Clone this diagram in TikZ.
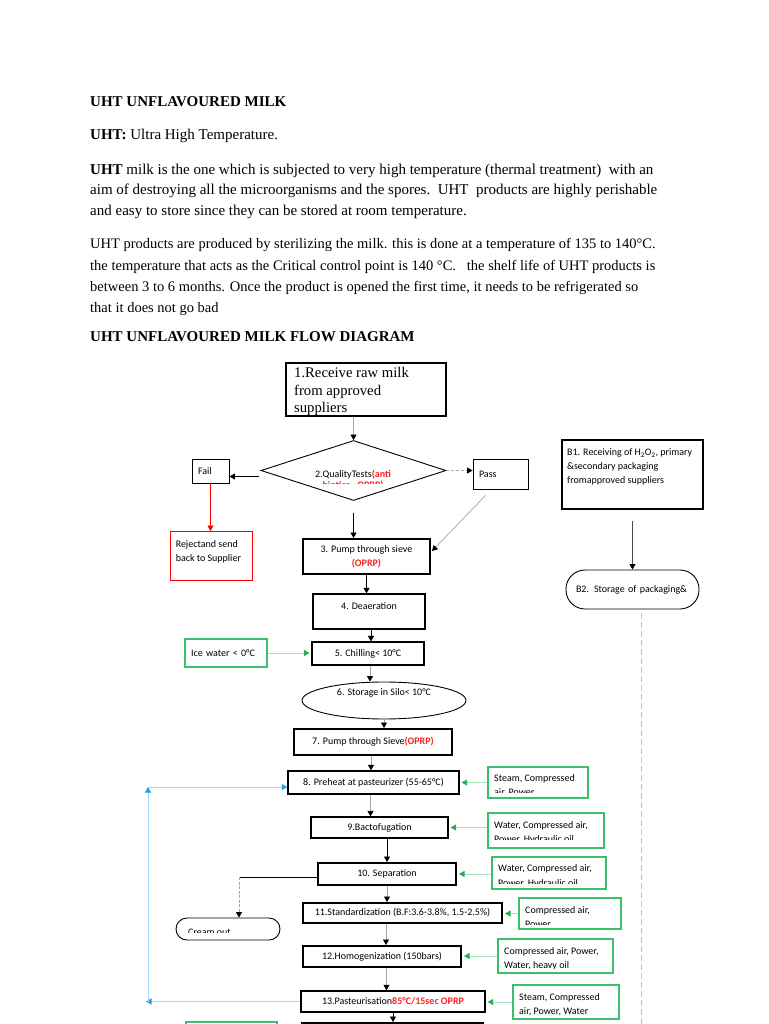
\documentclass[tikz,border=0pt]{standalone}
\usepackage{fontspec}
\setmainfont{Liberation Serif}
\newfontfamily\calib{Carlito}
\usetikzlibrary{arrows.meta,shapes.geometric,calc}
\definecolor{gbord}{HTML}{3CBF6B}
\definecolor{gline}{HTML}{A9E3BE}
\definecolor{gtip}{HTML}{1FB050}
\definecolor{bline}{HTML}{9ED8F5}
\definecolor{btip}{HTML}{1AA3E6}
\definecolor{oprp}{HTML}{FF1F1F}
\newcommand\bodyf{\fontsize{15}{20}\selectfont}
\newcommand\bodyg{\fontsize{14.5}{20}\selectfont}
\newcommand\dgf{\calib\fontsize{10}{14}\selectfont}
\newcommand\greenbx[9]{%
  \node[gbox, minimum width={#4-#2}, minimum height={#5-#3}] (#1) at ({(#2+#4)/2},{(#3+#5)/2}) {};
  \node[gtext] (#1a) at ({#2+6},#6) {#7};
  \begin{scope}
    \clip (#2,#3) rectangle (#4,#9);
    \node[gtext] (#1b) at ({#2+6},{#6+14.5}) {#8};
  \end{scope}}
\begin{document}
\begin{tikzpicture}[x=1pt,y=-1pt,
  bt/.style={anchor=base west, inner sep=0, font=\bodyf},
  bt2/.style={anchor=base west, inner sep=0, font=\bodyg},
  wh/.style 2 args={minimum width=#1pt, minimum height=#2pt},
  box/.style={draw, line width=1.1pt, inner sep=0, font=\dgf, align=center},
  tbox/.style={box, line width=2pt},
  gbox/.style={draw=gbord, line width=1.1pt, inner sep=0},
  gtext/.style={anchor=base west, inner sep=0, font=\dgf},
  arr/.style={draw=black!35, line width=0.7pt, -{Triangle[length=5.5pt,width=6pt,color=black]}},
  darr/.style={arr, dash pattern=on 3pt off 2pt},
  barr/.style={draw=black, line width=0.9pt, -{Triangle[length=5.5pt,width=6pt]}},
  rarr/.style={draw=red, line width=0.7pt, -{Triangle[length=5.5pt,width=6pt,color=red]}},
  garr/.style={draw=gline, line width=0.9pt, -{Triangle[length=5.5pt,width=6pt,color=gtip]}, shorten >=2pt},
  blarr/.style={draw=bline, line width=0.9pt, -{Triangle[length=5.5pt,width=6pt,color=btip]}}]
\clip (0,0) rectangle (768,1024);
\fill[white] (0,0) rectangle (768,1024);

% ---- text ----
\node[bt] (t1) at (90,107) {\textbf{UHT UNFLAVOURED MILK}};
\node[bt] (t2) at (90,139.5) {\textbf{UHT:} Ultra High Temperature.};
\node[bt] (p1a) at (90,174.5) {\textbf{UHT} milk is the one which is subjected to very high temperature (thermal treatment)\ \ with an};
\node[bt] (p1b) at (90,195) {aim of destroying all the microorganisms and the spores.\ \ UHT\ \ products are highly perishable};
\node[bt] (p1c) at (90,215.5) {and easy to store since they can be stored at room temperature.};
\node[bt2] (p2a) at (90,248) {UHT products are produced by sterilizing the milk. this is done at a temperature of 135 to 140°C.};
\node[bt2] (p2b) at (90,270) {the temperature that acts as the Critical control point is 140 °C.\ \ \ the shelf life of UHT products is};
\node[bt2] (p2c) at (90,291) {between 3 to 6 months. Once the product is opened the first time, it needs to be refrigerated so};
\node[bt2] (p2d) at (90,312) {that it does not go bad};
\node[bt] (t3) at (90,341.5) {\textbf{UHT UNFLAVOURED MILK FLOW DIAGRAM}};

% ---- main column ----
\node[box, wh={160}{53},
  label={[font={\fontsize{14.7}{17.5}\selectfont}, align=left, inner sep=0, anchor=north west, xshift=8.5pt, yshift=-5pt]north west:{1.Receive raw milk\\from approved\\suppliers}}] (b1) at (366,389.5) {};
\node[draw, diamond, line width=0.9pt, minimum width=185pt, minimum height=60pt, inner sep=0] (q) at (353.5,470.5) {};
\node[font=\dgf, anchor=base, inner sep=0] (qt1) at (353,477.5) {2.QualityTests{\color{oprp}\bfseries(anti}};
\begin{scope}
  \clip (262,478) rectangle (446,483);
  \node[font=\dgf, anchor=base, inner sep=0, text=oprp] (qt2) at (353,488) {\bfseries biotics - OPRP)};
\end{scope}
\node[box, wh={37}{24}, text width=25pt, align=left, line width=0.9pt] (fail) at (210.5,471) {Fail};
\node[box, wh={55}{30}, text width=43pt, align=left, line width=0.9pt] (pass) at (500.5,474) {Pass};
\node[box, draw=red, wh={82}{49}, line width=0.9pt,
  label={[font=\dgf, align=left, inner sep=0, anchor=north west, xshift=6pt, yshift=-9pt]north west:{Rejectand send\\back to Supplier}}] (rej) at (211,556) {};
\node[tbox, wh={127}{35}] (b3) at (366.5,556.5) {3. Pump through sieve\\{\color{oprp}\bfseries(OPRP)}};
\node[box, wh={112}{35}, line width=1.3pt, text height=7pt, text depth=11.4pt] (b4) at (369,611.5) {4. Deaeration};
\node[box, wh={112}{23}] (b5) at (368,653.5) {5. Chilling< 10°C};
\node[gbox, wh={82}{28}, font=\dgf, text width=70pt, align=left] (ice) at (226,653) {Ice water < 0°C};
\node[draw, ellipse, line width=0.9pt, wh={164}{37}, inner sep=0, font=\dgf, text height=7pt, text depth=17.4pt] (b6) at (384,700.5) {6. Storage in Silo< 10°C};
\node[tbox, wh={158}{26}] (b7) at (373,742) {7. Pump through Sieve{\color{oprp}\bfseries(OPRP)}};
\node[box, wh={171}{23}, line width=1.3pt] (b8) at (373.5,782.5) {8. Preheat at pasteurizer (55-65°C)};
\node[box, wh={137}{21}] (b9) at (379.5,827.5) {9.Bactofugation};
\node[tbox, wh={138}{22}] (b10) at (387,874) {10. Separation};
\node[draw, rounded corners=11pt, wh={104}{22}, line width=0.9pt, inner sep=0] (cream) at (228,929) {};
\begin{scope}
  \clip (177,919) rectangle (279,932);
  \node[gtext] (creamt) at (188,935.5) {Cream out};
\end{scope}
\node[tbox, wh={199}{20}] (b11) at (402.5,913) {11.Standardization (B.F:3.6-3.8\%, 1.5-2.5\%)};
\node[tbox, wh={158}{21}] (b12) at (382,956.5) {12.Homogenization (150bars)};
\node[box, wh={184}{21}, line width=1.3pt] (b13) at (393,1001.5) {13.Pasteurisation{\color{oprp}\bfseries 85°C/15sec OPRP}};
\node[tbox, wh={181}{40}] (b14) at (392.5,1043) {};
\node[gbox, wh={91}{40}] (g14) at (231.5,1042) {};

% ---- utilities ----
\greenbx{g8}{488}{767}{588}{798}{781}{Steam, Compressed}{air, Power}{792}
\greenbx{g9}{488}{813}{604}{848}{828}{Water, Compressed air,}{Power, Hydraulic oil}{839}
\greenbx{g10}{492}{857}{606}{889}{871.5}{Water, Compressed air,}{Power, Hydraulic oil}{883}
\greenbx{g11}{519}{898}{621}{929}{913}{Compressed air,}{Power}{924}
\greenbx{g12}{498}{939}{613}{973}{954}{Compressed air, Power,}{Water, heavy oil}{968.5}
\greenbx{g13}{513}{985}{619}{1019}{1000}{Steam, Compressed}{air, Power, Water}{1017}

% ---- packaging column ----
\node[draw, line width=2.8pt, wh={141}{69},
  label={[font=\dgf, align=left, inner sep=0, anchor=north west, xshift=6.4pt, yshift=-10pt]north west:{B1. Receiving of H\textsubscript{2}O\textsubscript{2}, primary\\\&secondary packaging\\fromapproved suppliers}}] (B1) at (632.5,474.5) {};
\node[draw, rounded corners=19pt, wh={133}{39}, line width=0.9pt, font=\dgf, text width=113pt, align=left, inner sep=0] (B2) at (632.5,589.5) {B2. Storage of packaging\&};

% ---- connectors ----
\draw[arr] (q.north |- b1.south) -- (q.north);
\draw[barr] ($(q.west)+(-2,6)$) -- ($(q.west -| fail.east)+(0,6)$);
\draw[darr] (q.east) -- (q.east -| pass.west);
\draw[rarr] (fail.south) -- (fail.south |- rej.north);
\draw[arr] ($(pass.south)+(-15,6)$) -- ($(b3.east)+(1,-5.5)$);
\draw[barr] ($(q.south)+(0,12)$) -- (q.south |- b3.north);
\draw[barr] (b3.south) -- (b3.south |- b4.north);
\draw[barr] ($(b4.south)+(2,0)$) -- ($(b4.south |- b5.north)+(2,0)$);
\draw[garr] (ice.east) -- (ice.east -| b5.west);
\draw[arr] ($(b5.south)+(2,0)$) -- ($(b5.south |- b6.north)+(2,0)$);
\draw[arr] (b6.south) -- (b6.south |- b7.north);
\draw[arr] ($(b7.south)+(-2,0)$) -- ($(b7.south |- b8.north)+(-2,0)$);
\draw[garr] (g8.west) -- (g8.west -| b8.east);
\draw[arr] ($(b8.south)+(-3,0)$) -- ($(b8.south |- b9.north)+(-3,0)$);
\draw[garr] (g9.west |- b9.east) -- (b9.east);
\draw[barr] (b9.south -| b10.north) -- (b10.north);
\draw[garr] (g10.west |- b10.east) -- (b10.east);
\draw[line width=0.9pt] ($(b10.west)+(0,3)$) -- ($(b10.west -| cream.north)+(11,3)$) coordinate (cr);
\draw[arr, dash pattern=on 3pt off 1.5pt] (cr) -- (cr |- cream.north);
\draw[arr] (b10.south) -- (b10.south |- b11.north);
\draw[garr] (g11.west) -- (g11.west -| b11.east);
\draw[arr] ($(b11.south -| b10.south)+(-1,0)$) -- ($(b10.south |- b12.north)+(-1,0)$);
\draw[garr] (g12.west) -- (g12.west -| b12.east);
\draw[arr] ($(b12.south)+(4.5,0)$) -- ($(b12.south |- b13.north)+(4.5,0)$);
\draw[garr] (g13.west) -- (g13.west -| b13.east);
\draw[barr] (b13.south) -- (b13.south |- b14.north);
\coordinate (lp1) at (148,1001.5);
\coordinate (lp2) at (148,787);
\draw[blarr] (b13.west) -- ($(lp1)+(-2,0)$);
\draw[blarr] (lp1) -- (lp2);
\draw[blarr] (lp2) -- (lp2 -| b8.west);
\draw[draw=black!70, line width=0.9pt, -{Triangle[length=5.5pt,width=6pt,color=black]}] ($(B1.south)+(0,11)$) -- (B2.north);
\draw[draw=black!25, line width=1pt, dash pattern=on 6pt off 3pt] ($(B2.south)+(8.5,4)$) -- ++(0,420);
\end{tikzpicture}
\end{document}
